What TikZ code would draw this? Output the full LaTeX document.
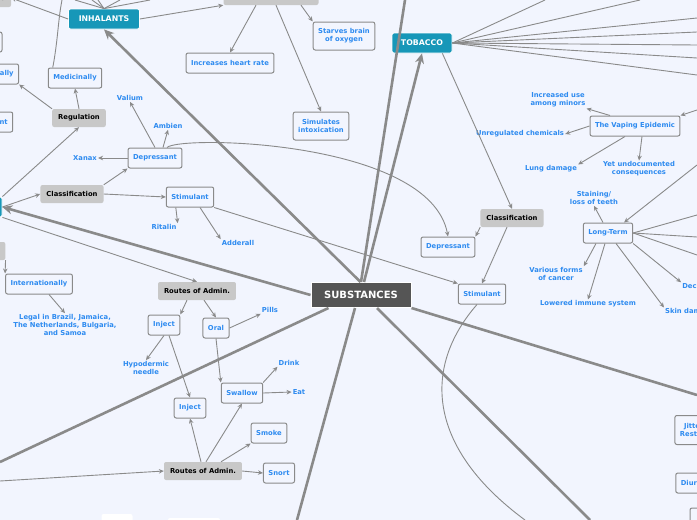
\documentclass[tikz,border=0pt]{standalone}
\usepackage{fontspec}
\setmainfont{DejaVu Sans}
\usetikzlibrary{arrows.meta}
\definecolor{bg}{HTML}{F2F5FE}
\definecolor{lbl}{HTML}{2E8BF0}
\definecolor{ln}{HTML}{8A8A8A}
\definecolor{gbox}{HTML}{C8C8C8}
\definecolor{teal}{HTML}{1797B8}
\definecolor{dark}{HTML}{555555}
\tikzset{
 x=1pt,y=-1pt,
 wbox/.style={draw=ln,line width=1pt,rounded corners=2pt,fill=bg,text=lbl,font=\bfseries\fontsize{6.8}{8}\selectfont,inner xsep=5pt,minimum height=20pt,align=center},
 gnode/.style={fill=gbox,rounded corners=2pt,text=black,font=\bfseries\fontsize{6.8}{8}\selectfont,minimum height=18pt,inner xsep=6pt},
 tnode/.style={fill=teal,draw=white,line width=0.8pt,rounded corners=2pt,text=white,font=\bfseries\fontsize{7.8}{9}\selectfont,minimum height=20pt,inner xsep=6pt},
 lab/.style={text=lbl,font=\bfseries\fontsize{6.8}{8}\selectfont,align=center,inner sep=1pt},
 cn/.style={fill=dark,draw=white,line width=1pt,text=white,font=\bfseries\fontsize{10}{12}\selectfont,minimum height=25pt,minimum width=100pt},
 ar/.style={draw=ln,line width=0.9pt,-{Stealth[length=5pt,width=4.5pt]}},
 pl/.style={draw=ln,line width=0.9pt},
 big/.style={draw=ln,line width=2.6pt,-{Stealth[length=10pt,width=9pt]}},
 bigl/.style={draw=ln,line width=2.6pt},
}
\begin{document}
\begin{tikzpicture}
\fill[bg] (0,0) rectangle (697,520);
\useasboundingbox (0,0) rectangle (697,520);
\foreach \n/\x/\y in {t1/405/0,t2/0/462,t3/297/520,t4/590/520,t5/697/395,r0/545/0,r1/640/0,r2/697/18,r3/697/32,r4/697/45,r5/697/58,r6/697/75,rv/697/110,rl/697/165,rk1/697/215,rk2/697/237,rk3/697/255,i1/75/0,i2/92/0,i3/98/0,i4/120/0,i5/150/0,m0/62/0,lr/0/481,sb/525/520}
  \coordinate (\n) at (\x,\y);
\node[cn] (sub) at (361,295) {SUBSTANCES};
\node[tnode,minimum width=71pt] (inh) at (104,19) {INHALANTS};
\node[tnode,minimum width=60pt] (tob) at (422,43) {TOBACCO};
\node[tnode,minimum width=20pt] (lt) at (-8,207) {};
\node[gnode,minimum width=95pt] (tg) at (271,-4) {Effects};
\node[gnode,minimum width=30pt] (tl) at (-8,-2) {Effects};
\node[wbox,minimum width=20pt] (lb1) at (-8,42) {};
\node[wbox] (rec) at (-14,74) {Recreationally};
\node[wbox] (trt) at (-12,122) {Treatment};
\node[wbox] (med) at (75,78) {Medicinally};
\node[gnode] (reg) at (79,118) {Regulation};
\node[lab] (val) at (130,98) {Valium};
\node[lab] (amb) at (168,126) {Ambien};
\node[lab] (xan) at (85,158) {Xanax};
\node[wbox] (dep) at (155,158) {Depressant};
\node[gnode] (cls) at (72,194) {Classification};
\node[wbox] (sti) at (190,197) {Stimulant};
\node[lab] (rit) at (164,227) {Ritalin};
\node[lab] (add) at (238,243) {Adderall};
\node[gnode] (leg) at (-24,251) {Legalization};
\node[wbox] (int) at (39,284) {Internationally};
\node[lab] (brz) at (65,325) {Legal in Brazil, Jamaica,\\The Netherlands, Bulgaria,\\and Samoa};
\node[gnode] (ra1) at (197,291) {Routes of Admin.};
\node[wbox] (inj) at (164,325) {Inject};
\node[wbox] (ora) at (216,328) {Oral};
\node[lab] (pil) at (270,310) {Pills};
\node[lab] (hyp) at (146,368) {Hypodermic\\needle};
\node[lab] (dri) at (289,363) {Drink};
\node[lab] (eat) at (299,392) {Eat};
\node[wbox] (swa) at (242,393) {Swallow};
\node[wbox] (inj2) at (190,408) {Inject};
\node[wbox] (smo) at (269,433) {Smoke};
\node[gnode] (ra2) at (203,471) {Routes of Admin.};
\node[wbox] (sno) at (279,473) {Snort};
\node[wbox] (ihr) at (230,63) {Increases heart rate};
\node[wbox,minimum height=28pt] (sbo) at (344,36) {Starves brain\\of oxygen};
\node[wbox,minimum height=28pt] (sim) at (321,126) {Simulates\\intoxication};
\node[gnode] (cls2) at (512,218) {Classification};
\node[wbox] (dep2) at (448,247) {Depressant};
\node[wbox] (sti2) at (482,294) {Stimulant};
\node[wbox] (vap) at (635,126) {The Vaping Epidemic};
\node[lab] (inc) at (558,100) {Increased use\\among minors};
\node[lab] (unr) at (520,134) {Unregulated chemicals};
\node[lab] (lun) at (551,169) {Lung damage};
\node[lab] (yet) at (639,169) {Yet undocumented\\consequences};
\node[wbox] (lon) at (608,233) {Long-Term};
\node[lab] (sta) at (594,198) {Staining/\\loss of teeth};
\node[lab] (var) at (556,274) {Various forms\\of cancer};
\node[lab] (low) at (588,304) {Lowered immune system};
\node[lab] (skn) at (690,312) {Skin damage};
\node[lab] (dec) at (700,286) {Decrease};
\node[wbox,minimum height=29pt] (jit) at (696,430) {Jittery\\Restless};
\node[wbox] (diu) at (696,483) {Diuretic};
\node[wbox,minimum width=20pt] (bx1) at (700,518) {};
\node[fill=white,rounded corners=2pt,minimum width=31pt,minimum height=12pt] (bw1) at (117,520) {};
\node[fill=white,rounded corners=2pt,minimum width=52pt,minimum height=8pt] (bw2) at (194,522) {};
\draw[big] (sub.north west)++(50,0) -- (inh.south);
\draw[big] (sub.north)++(3,0) -- (tob.south);
\draw[bigl] (sub.north) -- (t1);
\draw[big] (sub.west) -- (lt.east);
\draw[bigl] ([xshift=18pt]sub.south west) -- (t2);
\draw[bigl] ([xshift=-6pt]sub.south) -- (t3);
\draw[bigl] ([xshift=16pt]sub.south) -- (t4);
\draw[bigl] (sub.south east) -- (t5);
\draw[ar] (inh.west) -- (tl.east);
\draw[ar] (inh.east) -- (tg.south west);
\foreach \c in {i1,i2,i3,i4,i5} \draw[pl] (inh.north) -- (\c);
\draw[pl] (med.north west)++(5,0) .. controls (58,40) and (58,20) .. (m0);
\draw[ar] ([xshift=-15pt]tg.south) -- (ihr.north);
\draw[ar] ([xshift=30pt]tg.south) -- (sbo.north west);
\draw[ar] ([xshift=5pt]tg.south) -- (sim.north);
\draw[ar] (reg.north) -- (med.south);
\draw[ar] (reg.north west) -- (rec.south east);
\draw[ar] (lt.north east) -- (reg.south);
\draw[ar] (lt.east) -- (cls.west);
\draw[ar] (cls.north east) -- (dep.south west);
\draw[ar] (cls.east) -- (sti.west);
\draw[ar] (dep.north) -- (val.south);
\draw[ar] ([xshift=8pt]dep.north) -- (amb.south);
\draw[ar] (dep.west) -- (xan.east);
\draw[ar] ([xshift=12pt]dep.north) .. controls (180,135) and (430,140) .. (dep2.north);
\draw[ar] (sti.south west)++(10,0) -- (rit.north east);
\draw[ar] ([xshift=10pt]sti.south) -- (add.north west);
\draw[ar] (sti.south east) -- (sti2.north west);
\draw[ar] (lt.south east) -- (ra1.north);
\draw[ar] (leg.south east) -- (int.north west);
\draw[ar] (int.south) ++(10,0) -- (brz.north);
\draw[ar] ([xshift=-10pt]ra1.south) -- (inj.north east);
\draw[ar] ([xshift=7pt]ra1.south) -- (ora.north);
\draw[ar] (inj.south) -- (hyp.north);
\draw[ar] ([xshift=5pt]inj.south) -- (inj2.north);
\draw[ar] (ora.east) -- (pil.south west);
\draw[ar] (ora.south) -- (swa.north west);
\draw[ar] (swa.north east) -- (dri.south west);
\draw[ar] (swa.east) -- (eat.west);
\draw[ar] ([xshift=-2pt]ra2.north) -- (inj2.south);
\draw[ar] ([xshift=3pt]ra2.north) -- (swa.south);
\draw[ar] ([xshift=18pt]ra2.north) -- (smo.south west);
\draw[ar] (ra2.east) -- (sno.west);
\draw[ar] (lr) -- (ra2.west);
\foreach \c in {r0,r1,r2,r3,r4,r5,r6} \draw[pl] (tob.east) -- (\c);
\draw[ar] ([xshift=-10pt]tob.south east) -- (cls2.north);
\draw[ar] (cls2.south west) -- (dep2.north east);
\draw[ar] ([xshift=-5pt]cls2.south) -- (sti2.north);
\draw[pl] ([xshift=-5pt]sti2.south) .. controls (420,370) and (430,450) .. (sb);
\draw[ar] (rv) -- (vap.north east);
\draw[ar] ([xshift=-25pt]vap.north) -- (inc.south east);
\draw[ar] (vap.west) -- (unr.east);
\draw[ar] ([xshift=-10pt]vap.south) -- (lun.north east);
\draw[ar] ([xshift=7pt]vap.south) -- (yet.north);
\draw[ar] (rl) -- ([xshift=16pt]lon.north);
\draw[ar] ([xshift=-5pt]lon.north) -- (sta.south);
\draw[ar] ([xshift=-12pt]lon.south) -- (var.north east);
\draw[ar] ([xshift=-3pt]lon.south) -- (low.north);
\draw[ar] ([xshift=8pt]lon.south) -- (skn.north west);
\draw[ar] (lon.south east) -- (dec.north west);
\foreach \c in {rk1,rk2,rk3} \draw[pl] (lon.east) -- (\c);
\end{tikzpicture}
\end{document}
